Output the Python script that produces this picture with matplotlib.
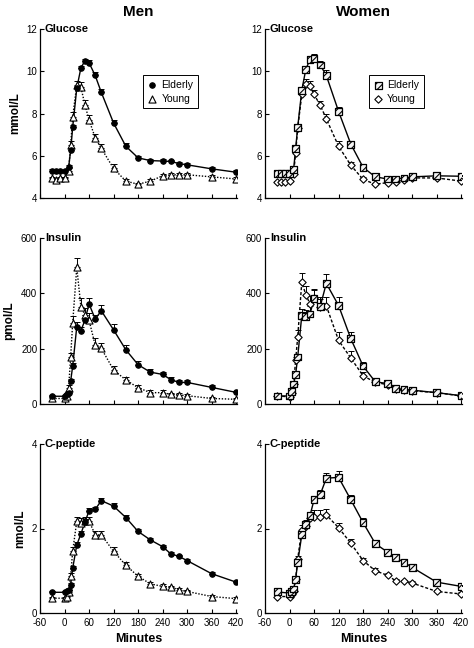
import matplotlib
matplotlib.use("Agg")
import matplotlib.pyplot as plt
import numpy as np

plt.rcParams['font.family'] = ['Liberation Sans', 'DejaVu Sans']
plt.rcParams['hatch.linewidth'] = 0.8
plt.rcParams['hatch.color'] = 'black'

# ---------------- data ----------------
t_glu = [-30, -20, -10, 0, 10, 15, 20, 30, 40, 50, 60, 75, 90, 120, 150, 180, 210, 240, 260, 280, 300, 360, 420]
t_hor = [-30, 0, 5, 10, 15, 20, 30, 40, 50, 60, 75, 90, 120, 150, 180, 210, 240, 260, 280, 300, 360, 420]

# Men glucose (mmol/L)
men_glu_eld = [5.3, 5.28, 5.28, 5.28, 5.45, 6.25, 7.35, 9.2, 10.15, 10.5, 10.4, 9.8, 9.0, 7.55, 6.45, 5.9, 5.77, 5.75, 5.73, 5.63, 5.57, 5.38, 5.22]
men_glu_eld_sem = [0.05, 0.05, 0.05, 0.05, 0.1, 0.1, 0.1, 0.1, 0.1, 0.08, 0.12, 0.15, 0.15, 0.15, 0.15, 0.1, 0.08, 0.08, 0.08, 0.08, 0.08, 0.1, 0.1]
men_glu_yng = [4.95, 4.85, 4.95, 4.95, 5.3, 6.5, 7.85, 9.35, 9.25, 8.4, 7.7, 6.85, 6.35, 5.4, 4.8, 4.65, 4.8, 5.05, 5.1, 5.1, 5.1, 5.0, 4.9]
men_glu_yng_sem = [0.05, 0.05, 0.05, 0.05, 0.1, 0.2, 0.2, 0.2, 0.25, 0.25, 0.25, 0.2, 0.2, 0.2, 0.12, 0.05, 0.08, 0.1, 0.1, 0.1, 0.1, 0.1, 0.1]

# Women glucose (mmol/L)
wom_glu_eld = [5.15, 5.15, 5.15, 5.15, 5.35, 6.35, 7.35, 9.1, 10.1, 10.55, 10.6, 10.3, 9.8, 8.1, 6.55, 5.45, 5.0, 4.9, 4.9, 4.95, 5.0, 5.05, 5.03]
wom_glu_eld_sem = [0.05, 0.05, 0.05, 0.05, 0.1, 0.12, 0.1, 0.15, 0.15, 0.15, 0.2, 0.2, 0.25, 0.2, 0.15, 0.1, 0.08, 0.08, 0.08, 0.08, 0.08, 0.08, 0.08]
wom_glu_yng = [4.75, 4.75, 4.75, 4.8, 5.15, 6.15, 7.3, 8.9, 9.4, 9.3, 8.9, 8.4, 7.75, 6.45, 5.55, 4.88, 4.65, 4.73, 4.78, 4.85, 4.95, 4.95, 4.8]
wom_glu_yng_sem = [0.05, 0.05, 0.05, 0.05, 0.1, 0.12, 0.1, 0.2, 0.25, 0.25, 0.2, 0.2, 0.25, 0.25, 0.15, 0.1, 0.08, 0.08, 0.08, 0.08, 0.08, 0.08, 0.08]

# Men insulin (pmol/L)
men_ins_eld = [28, 28, 35, 40, 83, 137, 280, 265, 303, 362, 307, 337, 268, 196, 142, 115, 107, 88, 78, 78, 60, 42]
men_ins_eld_sem = [5, 5, 5, 5, 8, 10, 15, 15, 20, 20, 15, 20, 20, 18, 15, 12, 10, 10, 8, 8, 8, 6]
men_ins_yng = [20, 20, 30, 57, 171, 294, 494, 352, 322, 303, 213, 201, 123, 87, 59, 41, 41, 35, 33, 30, 20, 17]
men_ins_yng_sem = [5, 5, 8, 10, 15, 25, 35, 30, 25, 25, 25, 20, 15, 12, 10, 8, 8, 6, 6, 6, 5, 5]

# Women insulin (pmol/L)
wom_ins_eld = [29, 29, 45, 72, 107, 170, 320, 315, 325, 380, 352, 436, 356, 236, 137, 80, 74, 56, 53, 50, 41, 30]
wom_ins_eld_sem = [5, 5, 5, 8, 10, 12, 25, 25, 30, 35, 35, 35, 30, 25, 15, 10, 8, 6, 6, 6, 5, 5]
wom_ins_yng = [29, 26, 40, 72, 160, 242, 440, 395, 362, 383, 350, 355, 230, 166, 102, 78, 70, 54, 50, 48, 41, 29]
wom_ins_yng_sem = [5, 5, 6, 8, 10, 25, 35, 30, 30, 30, 30, 30, 30, 25, 15, 10, 8, 6, 6, 6, 5, 5]

# Men C-peptide (nmol/L)
men_cp_eld = [0.49, 0.49, 0.52, 0.55, 0.67, 1.06, 1.61, 1.87, 2.15, 2.42, 2.45, 2.66, 2.53, 2.26, 1.93, 1.73, 1.57, 1.40, 1.34, 1.24, 0.93, 0.73]
men_cp_eld_sem = [0.03, 0.03, 0.03, 0.03, 0.04, 0.05, 0.07, 0.07, 0.07, 0.07, 0.06, 0.07, 0.07, 0.06, 0.05, 0.05, 0.04, 0.04, 0.04, 0.04, 0.04, 0.03]
men_cp_yng = [0.35, 0.35, 0.37, 0.5, 0.88, 1.47, 2.17, 2.14, 2.17, 2.18, 1.85, 1.85, 1.46, 1.13, 0.87, 0.69, 0.63, 0.61, 0.55, 0.51, 0.39, 0.34]
men_cp_yng_sem = [0.03, 0.03, 0.03, 0.04, 0.06, 0.09, 0.1, 0.1, 0.1, 0.1, 0.1, 0.1, 0.1, 0.08, 0.06, 0.05, 0.05, 0.04, 0.04, 0.04, 0.03, 0.03]

# Women C-peptide (nmol/L)
wom_cp_eld = [0.5, 0.47, 0.5, 0.57, 0.8, 1.2, 1.85, 2.09, 2.3, 2.68, 2.8, 3.19, 3.21, 2.68, 2.14, 1.64, 1.44, 1.31, 1.2, 1.08, 0.73, 0.63]
wom_cp_eld_sem = [0.03, 0.03, 0.03, 0.04, 0.05, 0.07, 0.1, 0.1, 0.1, 0.1, 0.1, 0.12, 0.15, 0.12, 0.1, 0.07, 0.06, 0.05, 0.05, 0.05, 0.04, 0.04]
wom_cp_yng = [0.39, 0.39, 0.45, 0.53, 0.8, 1.28, 1.97, 2.06, 2.24, 2.28, 2.28, 2.32, 2.02, 1.65, 1.24, 1.0, 0.89, 0.76, 0.75, 0.71, 0.51, 0.45]
wom_cp_yng_sem = [0.03, 0.03, 0.03, 0.04, 0.05, 0.07, 0.12, 0.12, 0.15, 0.15, 0.15, 0.15, 0.12, 0.1, 0.07, 0.06, 0.05, 0.04, 0.04, 0.04, 0.04, 0.04]

x_ticks = [-60, 0, 60, 120, 180, 240, 300, 360, 420]
col_titles = ["Men", "Women"]
row_labels = ["Glucose", "Insulin", "C-peptide"]
row_units = ["mmol/L", "pmol/L", "nmol/L"]
row_ylim = [(4, 12), (0, 600), (0, 4)]
row_yticks = [[4, 6, 8, 10, 12], [0, 200, 400, 600], [0, 2, 4]]
group_labels = ["Elderly", "Young"]

# ---------------- figure ----------------
W, H = 474, 648
fig = plt.figure(figsize=(W / 100, H / 100), dpi=100)

col_px = [(40, 237), (265, 462)]
row_px = [(29, 198), (238, 404), (444, 613)]

panels = {
    (0, 0): (t_glu, men_glu_eld, men_glu_eld_sem, men_glu_yng, men_glu_yng_sem),
    (1, 0): (t_hor, men_ins_eld, men_ins_eld_sem, men_ins_yng, men_ins_yng_sem),
    (2, 0): (t_hor, men_cp_eld, men_cp_eld_sem, men_cp_yng, men_cp_yng_sem),
    (0, 1): (t_glu, wom_glu_eld, wom_glu_eld_sem, wom_glu_yng, wom_glu_yng_sem),
    (1, 1): (t_hor, wom_ins_eld, wom_ins_eld_sem, wom_ins_yng, wom_ins_yng_sem),
    (2, 1): (t_hor, wom_cp_eld, wom_cp_eld_sem, wom_cp_yng, wom_cp_yng_sem),
}

for (r, c), (t, ye, se, yy, sy) in panels.items():
    x0, x1 = col_px[c]
    y0, y1 = row_px[r]
    ax = fig.add_axes([x0 / W, 1 - y1 / H, (x1 - x0) / W, (y1 - y0) / H])
    t = np.array(t)
    ye, se, yy, sy = map(np.array, (ye, se, yy, sy))

    if c == 0:
        young_ls = (0, (1, 1.2))
    else:
        young_ls = (0, (2.2, 1.4))

    # error bars (upper only)
    ax.errorbar(t, ye, yerr=[np.zeros_like(se), se], fmt='none', ecolor='black',
                elinewidth=0.7, capsize=2.2, capthick=0.7, zorder=2)
    ax.errorbar(t, yy, yerr=[np.zeros_like(sy), sy], fmt='none', ecolor='black',
                elinewidth=0.7, capsize=2.2, capthick=0.7, zorder=2)

    ax.plot(t, ye, color='black', lw=1.0, ls='-', zorder=3)
    ax.plot(t, yy, color='black', lw=1.0, ls=young_ls, zorder=3)

    if c == 0:
        h1 = ax.scatter(t, ye, marker='o', s=16, facecolor='black', edgecolor='black',
                        linewidths=0.7, zorder=5, label=group_labels[0])
        h2 = ax.scatter(t, yy, marker='^', s=26, facecolor='white', edgecolor='black',
                        linewidths=0.8, zorder=4, label=group_labels[1])
    else:
        h1 = ax.scatter(t, ye, marker='s', s=24, facecolor='#f4f4f4', edgecolor='black',
                        hatch='/////', linewidths=0.9, zorder=5, label=group_labels[0])
        h2 = ax.scatter(t, yy, marker='D', s=14, facecolor='white', edgecolor='black',
                        linewidths=0.8, zorder=4, label=group_labels[1])

    ax.set_xlim(-60, 422)
    ax.set_ylim(*row_ylim[r])
    ax.set_xticks(x_ticks)
    ax.set_yticks(row_yticks[r])
    for s in ('top', 'right'):
        ax.spines[s].set_visible(False)
    for s in ('left', 'bottom'):
        ax.spines[s].set_linewidth(0.9)
    ax.tick_params(axis='y', direction='in', length=3, width=0.8, labelsize=7, pad=2)
    ax.tick_params(axis='x', direction='in', length=3, width=0.8, labelsize=7, pad=3.5)
    if r < 2:
        ax.set_xticklabels([])
    else:
        ax.set_xticklabels([str(v) for v in x_ticks])
        ax.set_xlabel("Minutes", fontsize=9, fontweight='bold', labelpad=4)
    if c == 0:
        ax.set_ylabel(row_units[r], fontsize=8.5, fontweight='bold', labelpad=4)

    ax.text(0.025, 1.0, row_labels[r], transform=ax.transAxes, ha='left', va='center',
            fontsize=8, fontweight='bold')

    if r == 0:
        ax.set_title(col_titles[c], fontsize=11, fontweight='bold', pad=9)
        lx = 0.523 if c == 0 else 0.528
        leg = ax.legend(handles=[h1, h2], loc='upper left', bbox_to_anchor=(lx, 0.725),
                        borderaxespad=0, fontsize=7.5, frameon=True, fancybox=False,
                        edgecolor='black', framealpha=1, handlelength=0.9,
                        handletextpad=0.4, borderpad=0.45, labelspacing=0.35)
        leg.get_frame().set_linewidth(0.7)

fig.savefig("out.png", dpi=100)
